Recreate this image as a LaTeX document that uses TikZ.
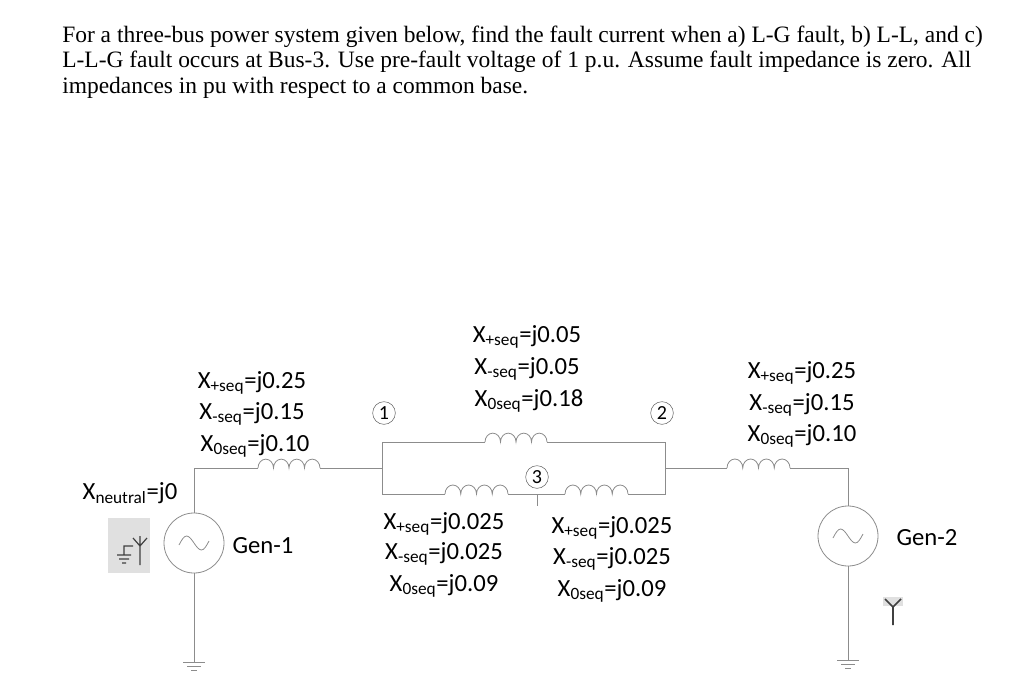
\documentclass[tikz,border=0pt]{standalone}
\usepackage{fontspec}
\setmainfont{Liberation Serif}
\newfontfamily\calfont{Carlito}
\begin{document}
\begin{tikzpicture}[x=0.75pt,y=-0.75pt,
  wire/.style={draw=black!45,line width=0.6pt},
  lbl/.style={font=\calfont\fontsize{18.5}{20}\selectfont,inner sep=0pt},
  ttl/.style={font=\fontsize{17.6}{20}\selectfont,anchor=base west,inner sep=0pt},
  bus/.style={circle,draw=black!60,inner sep=0.5pt,minimum size=17pt,font=\calfont\fontsize{15}{16}\selectfont}]
\useasboundingbox (0,0) rectangle (1024,696);
\newcommand\ind[3]{\draw[wire] (#1,#2) \foreach \k in {1,...,4}{ arc(180:360:{#3/8} and {#3/7})};}
\newcommand\gnd[2]{\draw[wire] (#1-11,#2)--(#1+11,#2) (#1-7,#2+4)--(#1+7,#2+4) (#1-3,#2+8)--(#1+3,#2+8);}
% title
\node[ttl] (t1) at (62,42) {For a three-bus power system given below, find the fault current when a) L-G fault, b) L-L, and c)};
\node[ttl] (t2) at (62,67) {L-L-G fault occurs at Bus-3. Use pre-fault voltage of 1 p.u. Assume fault impedance is zero. All};
\node[ttl] (t3) at (62,93) {impedances in pu with respect to a common base.};
% left gen
\coordinate (g1) at (194,543);
\draw[wire] (g1) circle (30);
\draw[wire] (179,545) sin (186.5,536) cos (194,543) sin (201.5,550) cos (209,541);
\draw[wire] (194,513)--(194,468)--(258,468);
\ind{258}{468}{62}
\draw[wire] (320,468)--(382,468);
\draw[wire] (194,573)--(194,662);
\gnd{194}{662}
% box
\draw[wire] (382,468)--(382,442)--(485,442);
\ind{485}{442}{62}
\draw[wire] (547,442)--(665,442)--(665,494)--(628,494);
\draw[wire] (628,494)--(628,494);
\draw[wire] (565,494)--(508,494);
\ind{565}{494}{63}
\ind{445}{494}{63}
\draw[wire] (445,494)--(382,494)--(382,468);
\draw[wire] (537,494)--(537,506);
% right gen
\draw[wire] (665,468)--(727,468);
\ind{727}{468}{63}
\draw[wire] (790,468)--(848,468)--(848,506);
\coordinate (g2) at (848,536);
\draw[wire] (g2) circle (30);
\draw[wire] (833,538) sin (840.5,529) cos (848,536) sin (855.5,543) cos (863,534);
\draw[wire] (848,566)--(848,660);
\gnd{848}{660}
% bus labels
\node[bus] (b1) at (384,413) {1};
\node[bus] (b2) at (662,413) {2};
\node[bus] (b3) at (537,477) {3};
% labels
\node[lbl] (l1) at (252,383) {X\textsubscript{+seq}=j0.25};
\node[lbl] (l2) at (252,414) {X\textsubscript{-seq}=j0.15};
\node[lbl] (l3) at (255,446) {X\textsubscript{0seq}=j0.10};
\node[lbl] (m1) at (527,337) {X\textsubscript{+seq}=j0.05};
\node[lbl] (m2) at (527,369) {X\textsubscript{-seq}=j0.05};
\node[lbl] (m3) at (529,401) {X\textsubscript{0seq}=j0.18};
\node[lbl] (r1) at (802,373) {X\textsubscript{+seq}=j0.25};
\node[lbl] (r2) at (802,405) {X\textsubscript{-seq}=j0.15};
\node[lbl] (r3) at (802,436) {X\textsubscript{0seq}=j0.10};
\node[lbl] (a1) at (444,524) {X\textsubscript{+seq}=j0.025};
\node[lbl] (a2) at (444,554) {X\textsubscript{-seq}=j0.025};
\node[lbl] (a3) at (444,586) {X\textsubscript{0seq}=j0.09};
\node[lbl] (c1) at (612,528) {X\textsubscript{+seq}=j0.025};
\node[lbl] (c2) at (612,559) {X\textsubscript{-seq}=j0.025};
\node[lbl] (c3) at (612,591) {X\textsubscript{0seq}=j0.09};
\node[lbl] (n) at (130,493) {X\textsubscript{neutral}=j0};
\node[lbl] (gen1) at (263,546) {Gen-1};
\node[lbl] (gen2) at (927,538) {Gen-2};
% neutral symbols
\fill[black!12] (108,518) rectangle (150,573);
\draw[black!75,line width=0.9pt] (140,536)--(140,565) (140,546)--(147,538) (140,546)--(133,538)
  (133,546)--(124,546)--(124,555) (117,555)--(131,555) (119,559)--(129,559) (122,563)--(126,563);
\fill[black!12] (883,597) rectangle (903,606);
\draw[black!75,line width=1.2pt] (893,606)--(893,625) (893,607)--(885,599) (893,607)--(901,599);
\end{tikzpicture}
\end{document}
